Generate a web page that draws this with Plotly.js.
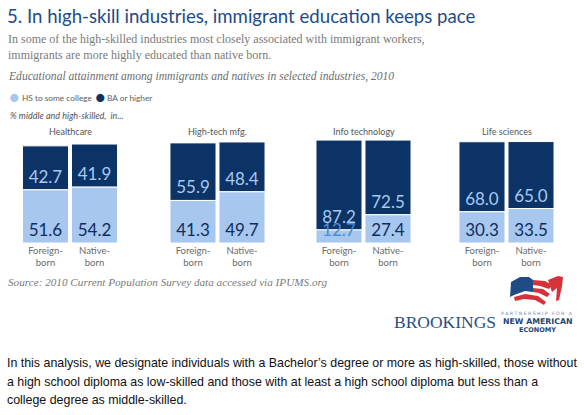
<!DOCTYPE html>
<html><head><meta charset="utf-8">
<script src="https://cdn.plot.ly/plotly-3.0.1.min.js"></script>
<style>html,body{margin:0;padding:0;background:#fff;}</style>
</head><body>
<div id="chart" style="width:584px;height:415px;"></div>
<script>
const industries = ["Healthcare", "High-tech mfg.", "Info technology", "Life sciences"];
const groups = ["Foreign-born", "Native-born"];
const groupTickText = ["Foreign-<br>born", "Native-<br>born"];
// % HS to some college (middle-skilled)
const hsSomeCollege = [[51.6, 54.2], [41.3, 49.7], [12.7, 27.4], [30.3, 33.5]];
// % BA or higher (high-skilled)
const baOrHigher = [[42.7, 41.9], [55.9, 48.4], [87.2, 72.5], [68.0, 65.0]];

const W = 584, H = 415;
const fx = p => p / W;
const fy = p => 1 - p / H;

const LIGHT = "#a7c7ef", DARK = "#0b3366";
const domainsPx = [[21, 119], [168.5, 266.5], [314.5, 412.5], [457.5, 555.5]];
const NUMFONT = "Lato, sans-serif";

const traces = [];
const layout = {
  width: W, height: H,
  margin: {l: 0, r: 0, t: 0, b: 0},
  paper_bgcolor: "#fff", plot_bgcolor: "#fff",
  barmode: "overlay", bargap: 0.06,
  showlegend: false,
  font: {family: "Lato, sans-serif"},
  annotations: [], shapes: []
};

industries.forEach((ind, i) => {
  const xa = i === 0 ? "x" : "x" + (i + 1);
  const ya = i === 0 ? "y" : "y" + (i + 1);
  const lightColors = hsSomeCollege[i].map(v => v < 20 ? "#4a8ad6" : "#0d2e5c");
  // BA or higher, stacked on top of the middle-skilled share
  traces.push({
    type: "bar", x: groups, y: baOrHigher[i], base: hsSomeCollege[i], xaxis: xa, yaxis: ya,
    name: "BA or higher", marker: {color: DARK, line: {color: "#ffffff", width: 1}},
    text: baOrHigher[i].map(v => v.toFixed(1)), textposition: "inside", insidetextanchor: "start", constraintext: "none",
    textfont: {family: NUMFONT, size: 17, color: "#a9c9f0"},
    hoverinfo: "skip", cliponaxis: false
  });
  // HS to some college (drawn last so its labels stay visible)
  traces.push({
    type: "bar", x: groups, y: hsSomeCollege[i], xaxis: xa, yaxis: ya,
    name: "HS to some college", marker: {color: LIGHT, line: {color: "#ffffff", width: 1}},
    text: hsSomeCollege[i].map(v => v.toFixed(1)), textposition: "inside", insidetextanchor: "start", constraintext: "none",
    textfont: {family: NUMFONT, size: 17, color: lightColors},
    hoverinfo: "skip", cliponaxis: false
  });
  const key = i === 0 ? "" : String(i + 1);
  layout["xaxis" + key] = {
    domain: [fx(domainsPx[i][0]), fx(domainsPx[i][1])], anchor: ya,
    type: "category", categoryorder: "array", categoryarray: groups,
    tickvals: groups, ticktext: groupTickText, ticks: "", showline: false, showgrid: false, zeroline: false,
    tickfont: {family: "Lato, sans-serif", size: 9.5, color: "#6a6a6a"}, fixedrange: true
  };
  layout["yaxis" + key] = {
    domain: [fy(243), fy(140)], anchor: xa, range: [0, 100],
    showticklabels: false, showgrid: false, zeroline: false, showline: false, ticks: "", fixedrange: true
  };
  layout.annotations.push({
    xref: "paper", yref: "paper", x: fx((domainsPx[i][0] + domainsPx[i][1]) / 2), y: fy(131),
    text: ind, showarrow: false, xanchor: "center", yanchor: "middle",
    font: {family: "Lato, sans-serif", size: 9, color: "#555"}
  });
});

const A = (x, y, text, font, xanchor = "left") => layout.annotations.push({
  xref: "paper", yref: "paper", x: fx(x), y: fy(y), text, showarrow: false,
  xanchor, yanchor: "middle", align: "left", font
});

A(5, 16, "5. In high-skill industries, immigrant education keeps pace",
  {family: "Lato, sans-serif", size: 18.6, color: "#1d4c86"});
A(6, 47, "In some of the high-skilled industries most closely associated with immigrant workers,<br>immigrants are more highly educated than native born.",
  {family: "Liberation Serif, serif", size: 12, color: "#7a7a7a"});
A(6, 76, "<i>Educational attainment among immigrants and natives in selected industries, 2010</i>",
  {family: "Liberation Serif, serif", size: 11.6, color: "#6e6e6e"});
// legend markers
A(8, 98, "\u2B24", {family: "DejaVu Sans, sans-serif", size: 8, color: LIGHT});
A(94, 98, "\u2B24", {family: "DejaVu Sans, sans-serif", size: 8, color: DARK});
A(20, 98, "HS to some college", {family: "Lato, sans-serif", size: 8.3, color: "#606060"});
A(105, 98, "BA or higher", {family: "Lato, sans-serif", size: 8.3, color: "#606060"});
A(8, 116, "<i>% middle and high-skilled,  in...</i>",
  {family: "Lato, sans-serif", size: 9, color: "#555"});
A(6, 282, "<i>Source: 2010 Current Population Survey data accessed via IPUMS.org</i>",
  {family: "Liberation Serif, serif", size: 11.2, color: "#7a7a7a"});

// Logo text
A(445, 322, "BROOKINGS", {family: "Liberation Serif, serif", size: 17.5, color: "#2a4f80"}, "center");
A(537, 313, "P A R T N E R S H I P   F O R   A", {family: "DejaVu Sans, sans-serif", size: 4.6, color: "#6d86a8"}, "center");
A(537, 321.5, "<b>NEW AMERICAN</b>", {family: "DejaVu Sans, sans-serif", size: 7.8, color: "#1f4470"}, "center");
A(537, 330, "<b>ECONOMY</b>", {family: "DejaVu Sans, sans-serif", size: 6.5, color: "#1f4470"}, "center");

// Flag-like logo drawn with paths (paper coordinates)
const P = pts => "M" + pts.map(p => fx(p[0]) + "," + fy(p[1])).join(" L") + " Z";
layout.shapes.push({type: "path", xref: "paper", yref: "paper", line: {width: 0}, fillcolor: "#1f4c86",
  path: P([[511, 282], [520, 277], [529, 277], [533, 280], [533, 292], [525, 291], [514, 295], [510, 297]])});
const stripes = [
  [[533, 280], [545, 281], [552, 285], [549, 289], [540, 286], [533, 285]],
  [[533, 288], [543, 289], [550, 294], [547, 297], [539, 293], [533, 292]],
  [[514, 297], [525, 294], [538, 296], [546, 302], [544, 305], [535, 300], [524, 299], [515, 301]],
  [[548, 280], [558, 276], [563, 277], [562, 286], [559, 300], [556, 301], [557, 288], [552, 292]]
];
stripes.forEach(s => layout.shapes.push({type: "path", xref: "paper", yref: "paper", line: {width: 0}, fillcolor: "#d6323a", path: P(s)}));

// Bottom paragraph
const para = [
  "In this analysis, we designate individuals with a Bachelor\u2019s degree or more as high-skilled, those without",
  "a high school diploma as low-skilled and those with at least a high school diploma but less than a",
  "college degree as middle-skilled."
];
para.forEach((t, k) => A(5, 363 + k * 18.5, t, {family: "Liberation Sans, Arial, sans-serif", size: 12.4, color: "#111"}));

Plotly.newPlot("chart", traces, layout, {displayModeBar: false, staticPlot: true});
</script>
</body></html>
